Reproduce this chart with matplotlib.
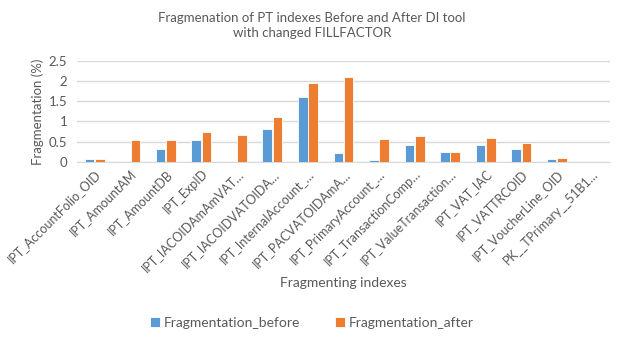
import matplotlib
matplotlib.use("Agg")
import matplotlib.pyplot as plt
import numpy as np

plt.rcParams['font.family'] = ['Lato', 'DejaVu Sans']

categories = [
    "IPT_AccountFolio_OID", "IPT_AmountAM", "IPT_AmountDB", "IPT_ExpID",
    "IPT_IACOIDAmAmVAT…", "IPT_IACOIDVATOIDA…", "IPT_InternalAccount_…",
    "IPT_PACVATOIDAmA…", "IPT_PrimaryAccount_…", "IPT_TransactionComp…",
    "IPT_ValueTransaction…", "IPT_VAT_IAC", "IPT_VATTRCOID",
    "IPT_VoucherLine_OID", "PK__TPrimary__51B1…",
]
frag_before = [0.07, 0.02, 0.33, 0.54, 0.02, 0.82, 1.60, 0.22, 0.05, 0.41,
               0.24, 0.43, 0.33, 0.08, 0.01]
frag_after = [0.07, 0.55, 0.54, 0.74, 0.66, 1.12, 1.95, 2.10, 0.57, 0.64,
              0.24, 0.59, 0.47, 0.09, 0.01]
y_ticks = [0, 0.5, 1, 1.5, 2, 2.5]
y_tick_labels = ["0", "0.5", "1", "1.5", "2", "2.5"]

blue = "#5B9BD5"
orange = "#ED7D31"
text_gray = "#595959"
grid_gray = "#D9D9D9"

fig = plt.figure(figsize=(6.24, 3.38), dpi=100)
ax = fig.add_axes([0.1234, 0.5207, 0.8542, 0.2997])

x = np.arange(len(categories))
w = 0.27
ax.bar(x - w / 2 - 0.01, frag_before, w, color=blue, edgecolor="white",
       linewidth=0.6, label="Fragmentation_before", zorder=3)
ax.bar(x + w / 2 + 0.01, frag_after, w, color=orange, edgecolor="white",
       linewidth=0.6, label="Fragmentation_after", zorder=3)

ax.set_xlim(-0.5, len(categories) - 0.5)
ax.set_ylim(0, 2.5)
ax.set_yticks(y_ticks)
ax.set_yticklabels(y_tick_labels, fontsize=9.5, color=text_gray)
ax.yaxis.grid(True, color=grid_gray, linewidth=1, zorder=0)
ax.set_axisbelow(True)
for s in ["top", "right", "left"]:
    ax.spines[s].set_visible(False)
ax.spines["bottom"].set_color(grid_gray)
ax.tick_params(axis="both", length=0)
ax.tick_params(axis="y", pad=7)
ax.tick_params(axis="x", pad=4)

ax.set_xticks(x)
ax.set_xticklabels(categories, rotation=45, ha="right", rotation_mode="anchor",
                   fontsize=9, color=text_gray)

ax.set_ylabel("Fragmentation (%)", fontsize=9.5, color=text_gray, labelpad=3)
ax_center = (0.1234 + 0.1234 + 0.8542) / 2
fig.text(ax_center, 0.162, "Fragmenting indexes", ha="center", va="center",
         fontsize=10, color=text_gray)
fig.text(0.5, 0.925, "Fragmenation of PT indexes Before and After DI tool\nwith changed FILLFACTOR",
         ha="center", va="center", fontsize=9.5, color=text_gray, linespacing=1.35)

leg = fig.legend(loc="center", bbox_to_anchor=(0.5, 0.045), ncol=2, frameon=False,
                 fontsize=10, handlelength=0.7, handleheight=0.7,
                 handletextpad=0.3, columnspacing=2.5)
for t in leg.get_texts():
    t.set_color(text_gray)

fig.savefig("out.png", dpi=100)
